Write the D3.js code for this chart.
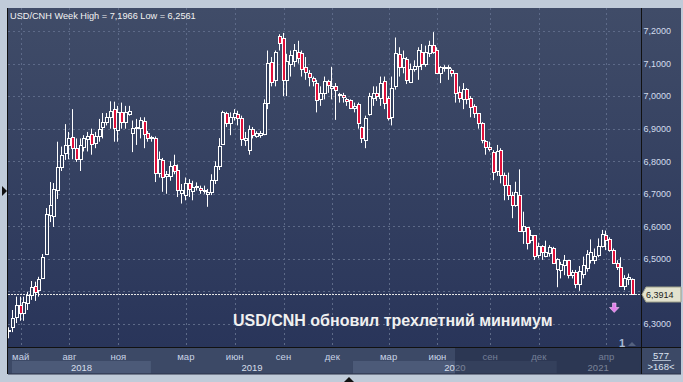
<!DOCTYPE html>
<html><head><meta charset="utf-8">
<script src="https://cdn.jsdelivr.net/npm/d3@7"></script>
<style>html,body{margin:0;padding:0;background:#c0cbd9;}svg{display:block;}</style>
</head><body>
<script>
// ---- data (weekly candles, USD/CNH) ----
const opens = [6.283,6.290,6.321,6.358,6.334,6.364,6.389,6.416,6.404,6.440,
6.515,6.635,6.632,6.712,6.782,6.825,6.850,6.874,6.840,6.807,
6.844,6.867,6.883,6.855,6.879,6.906,6.921,6.936,6.960,6.896,
6.952,6.922,6.945,6.886,6.902,6.902,6.925,6.887,6.871,6.871,
6.764,6.804,6.755,6.756,6.787,6.773,6.703,6.696,6.733,6.710,
6.720,6.718,6.710,6.700,6.705,6.742,6.786,6.852,6.948,6.918,
6.936,6.945,6.933,6.865,6.835,6.898,6.879,6.882,6.884,6.980,
7.105,7.050,7.185,7.178,7.050,7.100,7.107,7.136,7.132,7.090,
7.072,7.055,7.040,6.990,7.010,7.047,7.026,7.030,7.003,7.004,
6.990,6.988,6.963,6.975,6.906,6.865,6.945,6.994,7.010,6.994,
7.047,6.994,6.937,7.030,7.129,7.090,7.114,7.044,7.083,7.093,
7.136,7.100,7.133,7.157,7.142,7.070,7.090,7.085,7.080,7.070,
7.013,6.990,7.022,6.993,6.970,6.947,6.916,6.863,6.845,6.829,
6.771,6.834,6.758,6.727,6.696,6.665,6.696,6.587,6.597,6.558,
6.573,6.512,6.540,6.509,6.517,6.532,6.468,6.466,6.481,6.496,
6.450,6.461,6.423,6.453,6.471,6.498,6.498,6.512,6.540,6.573,
6.560,6.527,6.488,6.474,6.417,6.437,6.437];
const closes = [6.278,6.318,6.358,6.334,6.368,6.389,6.414,6.399,6.438,6.507,
6.638,6.665,6.715,6.782,6.819,6.850,6.872,6.840,6.807,6.850,
6.871,6.876,6.853,6.878,6.898,6.921,6.936,6.954,6.902,6.952,
6.921,6.950,6.954,6.903,6.905,6.927,6.884,6.871,6.873,6.764,
6.807,6.752,6.760,6.786,6.770,6.712,6.712,6.733,6.716,6.720,
6.725,6.712,6.713,6.704,6.742,6.785,6.847,6.952,6.918,6.936,
6.948,6.933,6.868,6.872,6.899,6.880,6.887,6.887,6.979,7.102,
7.044,7.135,7.164,7.050,7.109,7.126,7.141,7.117,7.083,7.074,
7.058,7.045,6.988,7.010,7.047,7.034,7.030,7.018,7.005,6.996,
6.986,6.963,6.970,6.917,6.871,6.933,7.000,7.010,7.000,7.040,
6.980,6.933,7.025,7.132,7.090,7.117,7.050,7.083,7.093,7.142,
7.100,7.136,7.157,7.136,7.070,7.090,7.085,7.090,7.070,7.010,
6.993,7.022,6.990,6.967,6.947,6.916,6.865,6.843,6.838,6.768,
6.831,6.758,6.727,6.696,6.665,6.704,6.587,6.601,6.550,6.573,
6.509,6.540,6.522,6.522,6.535,6.488,6.500,6.484,6.498,6.450,
6.461,6.422,6.464,6.481,6.515,6.522,6.509,6.540,6.576,6.558,
6.527,6.488,6.474,6.417,6.440,6.443,6.3914];
const highs = [6.290,6.343,6.384,6.384,6.384,6.399,6.432,6.430,6.445,6.515,
6.656,6.736,6.733,6.860,6.845,6.914,6.890,6.960,6.870,6.870,
6.880,6.890,6.900,6.890,6.930,6.948,6.948,6.984,6.983,6.970,
6.980,6.970,6.970,6.925,6.930,6.935,6.935,6.893,6.878,6.876,
6.830,6.810,6.770,6.800,6.820,6.790,6.730,6.750,6.745,6.740,
6.735,6.725,6.725,6.715,6.760,6.800,6.871,6.955,6.952,6.950,
6.960,6.955,6.940,6.890,6.910,6.905,6.892,6.893,6.990,7.140,
7.120,7.140,7.190,7.194,7.130,7.140,7.160,7.170,7.140,7.120,
7.080,7.060,7.050,7.030,7.060,7.050,7.090,7.040,7.010,7.010,
6.995,6.990,6.980,6.980,6.907,6.940,7.010,7.030,7.030,7.060,
7.060,7.000,7.060,7.180,7.150,7.140,7.120,7.100,7.110,7.150,
7.160,7.155,7.170,7.1966,7.150,7.092,7.095,7.095,7.085,7.070,
7.030,7.040,7.025,7.000,6.975,6.948,6.920,6.865,6.860,6.834,
6.850,6.840,6.765,6.765,6.706,6.737,6.775,6.645,6.597,6.589,
6.573,6.550,6.542,6.556,6.542,6.537,6.502,6.491,6.512,6.496,
6.466,6.466,6.478,6.507,6.527,6.560,6.532,6.563,6.589,6.587,
6.566,6.532,6.496,6.505,6.450,6.455,6.440];
const lows = [6.2561,6.275,6.303,6.310,6.310,6.343,6.374,6.371,6.384,6.438,
6.512,6.613,6.598,6.684,6.770,6.804,6.806,6.806,6.798,6.770,
6.830,6.830,6.820,6.840,6.860,6.870,6.910,6.900,6.860,6.860,
6.900,6.900,6.940,6.828,6.850,6.870,6.840,6.860,6.860,6.736,
6.750,6.706,6.700,6.740,6.760,6.690,6.670,6.680,6.690,6.680,
6.710,6.700,6.700,6.660,6.696,6.730,6.773,6.850,6.905,6.880,
6.925,6.910,6.847,6.847,6.820,6.870,6.872,6.872,6.880,6.960,
7.030,7.030,7.140,7.000,7.000,7.060,7.090,7.100,7.060,7.050,
7.030,7.030,6.950,6.970,6.990,7.010,6.990,6.927,6.980,6.980,
6.970,6.960,6.950,6.900,6.856,6.840,6.940,6.970,6.985,6.970,
6.960,6.925,6.910,7.020,7.060,7.070,7.037,7.040,7.075,7.050,
7.080,7.090,7.120,7.130,7.070,7.040,7.075,7.050,7.060,6.980,
6.980,6.960,6.975,6.935,6.933,6.900,6.855,6.820,6.830,6.742,
6.755,6.732,6.680,6.681,6.625,6.660,6.587,6.546,6.529,6.548,
6.497,6.502,6.497,6.505,6.507,6.488,6.413,6.440,6.450,6.440,
6.440,6.410,6.402,6.440,6.461,6.486,6.484,6.505,6.535,6.527,
6.522,6.486,6.466,6.415,6.404,6.420,6.391];

const yTicks = [6.3,6.4,6.5,6.6,6.7,6.8,6.9,7.0,7.1,7.2];
const monthLabels = ["май","авг","ноя","мар","июн","сен","дек","мар","июн","сен","дек","апр"];
const monthIdx = [3,16,29,47,60,73,86,101,114,128,141,159];
const yearLabels = ["2018","2019","2020","2021"];
const yearStart = [-0.7,37.7,91.5,145.8];
const yearEnd = [37.7,91.5,145.8,167.8];
const lastPrice = 6.3914;
const titleText = "USD/CNH Week High = 7,1966 Low = 6,2561";
const noteText = "USD/CNH обновил трехлетний минимум";

// ---- layout ----
const W = 683, H = 382;
const P = {l: 8, r: 641, t: 8, b: 347};
const FONT = "'Liberation Sans', Arial, sans-serif";

const svg = d3.select("body").append("svg").attr("width", W).attr("height", H);
const defs = svg.append("defs");
const g1 = defs.append("linearGradient").attr("id","bg").attr("x1",0).attr("y1",0).attr("x2",0).attr("y2",1);
g1.append("stop").attr("offset","0%").attr("stop-color","#404c68");
g1.append("stop").attr("offset","100%").attr("stop-color","#29355a");
defs.append("clipPath").attr("id","clip").append("rect")
  .attr("x",P.l).attr("y",P.t).attr("width",P.r-P.l).attr("height",P.b-P.t);

const x = d3.scaleLinear().domain([0,166]).range([9.4,632.7]);
const y = d3.scaleLinear().domain([6.3,7.2]).range([324,31]);

// outer frame
svg.append("rect").attr("width",W).attr("height",H).attr("fill","#c0cbd9");
// plot + right axis panel background
svg.append("rect").attr("x",P.l).attr("y",P.t).attr("width",681-P.l).attr("height",P.b-P.t).attr("fill","url(#bg)");

// bottom axis band
const band = svg.append("g");
band.append("rect").attr("x",P.l).attr("y",P.b).attr("width",681-P.l).attr("height",27).attr("fill","#3c4966");
band.selectAll("rect.yr").data(yearLabels).join("rect").attr("class","yr")
  .attr("x",(d,i)=>Math.max(12,x(yearStart[i]))).attr("y",361)
  .attr("width",(d,i)=>Math.min(P.r,x(yearEnd[i]))-Math.max(12,x(yearStart[i]))).attr("height",12.5)
  .attr("fill",(d,i)=> i%2===0 ? "#4c5a78" : "#3c4966");
band.selectAll("text.mo").data(monthLabels).join("text").attr("class","mo")
  .attr("x",(d,i)=>x(monthIdx[i])).attr("y",359.5).attr("text-anchor","middle")
  .attr("font-family",FONT).attr("font-size",9.5).attr("fill","#c9d4e6").text(d=>d);
band.selectAll("text.yt").data(yearLabels).join("text").attr("class","yt")
  .attr("x",(d,i)=>(Math.max(12,x(yearStart[i]))+Math.min(P.r,x(yearEnd[i])))/2).attr("y",370.5)
  .attr("text-anchor","middle").attr("font-family",FONT).attr("font-size",9.5).attr("fill","#d7dfeb").text(d=>d);
// dark overlay on the right part of the axis band
band.append("rect").attr("x",455).attr("y",P.b).attr("width",P.r-455).attr("height",27)
  .attr("fill","#1c2640").attr("opacity",0.5);
// bottom-right counter box
band.append("text").attr("x",661).attr("y",358.5).attr("text-anchor","middle").attr("font-family",FONT)
  .attr("font-size",9.5).attr("fill","#dbe3f0").text("577");
band.append("line").attr("x1",652).attr("x2",671).attr("y1",360.5).attr("y2",360.5).attr("stroke","#aab6c8");
band.append("text").attr("x",661).attr("y",370).attr("text-anchor","middle").attr("font-family",FONT)
  .attr("font-size",9.5).attr("fill","#dbe3f0").text(">168<");
band.append("line").attr("x1",P.l).attr("x2",681).attr("y1",374).attr("y2",374).attr("stroke","#2a3348");

// grid
const grid = svg.append("g");
grid.selectAll("line.h").data(yTicks).join("line").attr("class","h")
  .attr("x1",P.l).attr("x2",P.r).attr("y1",d=>Math.round(y(d))+0.5).attr("y2",d=>Math.round(y(d))+0.5)
  .attr("stroke","#5d6a88").attr("stroke-dasharray","2,3");
grid.selectAll("line.v").data(monthIdx).join("line").attr("class","v")
  .attr("x1",d=>Math.round(x(d))+0.5).attr("x2",d=>Math.round(x(d))+0.5).attr("y1",P.t).attr("y2",P.b)
  .attr("stroke","#5d6a88").attr("stroke-dasharray","2,3");

// right axis labels (the one under the price tag is hidden, as in the reference)
const fmt = d3.format(".4f");
const ty = Math.round(y(lastPrice))+0.5;
svg.append("g").selectAll("text").data(yTicks.filter(d=>Math.abs(y(d)-ty)>9)).join("text")
  .attr("x",643.5).attr("y",d=>y(d)+3.3).attr("font-family",FONT).attr("font-size",9)
  .attr("fill","#d3dded").text(d=>fmt(d).replace(".",","));

// last price line
svg.append("line").attr("x1",P.l).attr("x2",P.r).attr("y1",ty).attr("y2",ty)
  .attr("stroke","#e6e6e6").attr("stroke-dasharray","2,1");

// candles
const data = opens.map((o,i)=>({i, o, c: closes[i], h: highs[i], l: lows[i]}));
const cg = svg.append("g").attr("clip-path","url(#clip)");
const cx = d => Math.round(x(d.i));
cg.selectAll("line.wick").data(data).join("line").attr("class","wick")
  .attr("x1",d=>cx(d)-0.5).attr("x2",d=>cx(d)-0.5)
  .attr("y1",d=>y(d.h)).attr("y2",d=>y(d.l)).attr("stroke","#ffffff").attr("stroke-width",1);
cg.selectAll("rect.body").data(data).join("rect").attr("class","body")
  .attr("x",d=>cx(d)-1.5).attr("width",3)
  .attr("y",d=>Math.round(y(Math.max(d.o,d.c)))+0.5)
  .attr("height",d=>Math.max(1,Math.round(y(Math.min(d.o,d.c)))-Math.round(y(Math.max(d.o,d.c)))))
  .attr("fill",d=>d.c<d.o ? "#e0103a" : "#33405e")
  .attr("stroke","#ffffff").attr("stroke-width",1);

// borders
svg.append("line").attr("x1",P.l-0.5).attr("x2",P.l-0.5).attr("y1",P.t).attr("y2",374).attr("stroke","#111");
svg.append("line").attr("x1",P.l).attr("x2",681).attr("y1",P.b+0.5).attr("y2",P.b+0.5).attr("stroke","#111");
svg.append("line").attr("x1",P.r+0.5).attr("x2",P.r+0.5).attr("y1",P.t).attr("y2",374).attr("stroke","#111");

// price tag
svg.append("path").attr("d",`M${P.r+1},${ty} L${P.r+5},${ty-7.5} L681,${ty-7.5} L681,${ty+7.5} L${P.r+5},${ty+7.5} Z`)
  .attr("fill","#e2e2cf").attr("stroke","#9ea08a");
svg.append("text").attr("x",646).attr("y",ty+3.5).attr("font-family",FONT).attr("font-size",9)
  .attr("fill","#1b1b1b").text(fmt(lastPrice).replace(".",","));

// title
svg.append("text").attr("x",10).attr("y",18.5).attr("font-family",FONT).attr("font-size",9.2)
  .attr("fill","#f2f2f2").text(titleText);
// annotation
svg.append("text").attr("x",233).attr("y",326).attr("font-family",FONT).attr("font-size",16).attr("font-weight","bold")
  .attr("fill","#f0f0f0").text(noteText);

// pink arrow
svg.append("path").attr("d","M612.5,303 L616,303 L616,307.5 L619,307.5 L614.2,312.5 L609.5,307.5 L612.5,307.5 Z")
  .attr("fill","#e07fea").attr("stroke","#f4c8f8").attr("stroke-width",0.6);
// "1" marker
svg.append("text").attr("x",622).attr("y",347).attr("text-anchor","middle").attr("font-family",FONT)
  .attr("font-size",11).attr("font-weight","bold").attr("fill","#a9bad4").text("1");
svg.append("path").attr("d","M628,346 L632,342 L636,346 Z").attr("fill","#55627f");

// frame triangles
svg.append("path").attr("d","M2,186 L7,191 L2,196 Z").attr("fill","#111");
svg.append("path").attr("d","M344,382 L349,377 L354,382 Z").attr("fill","#111");
</script>
</body></html>
